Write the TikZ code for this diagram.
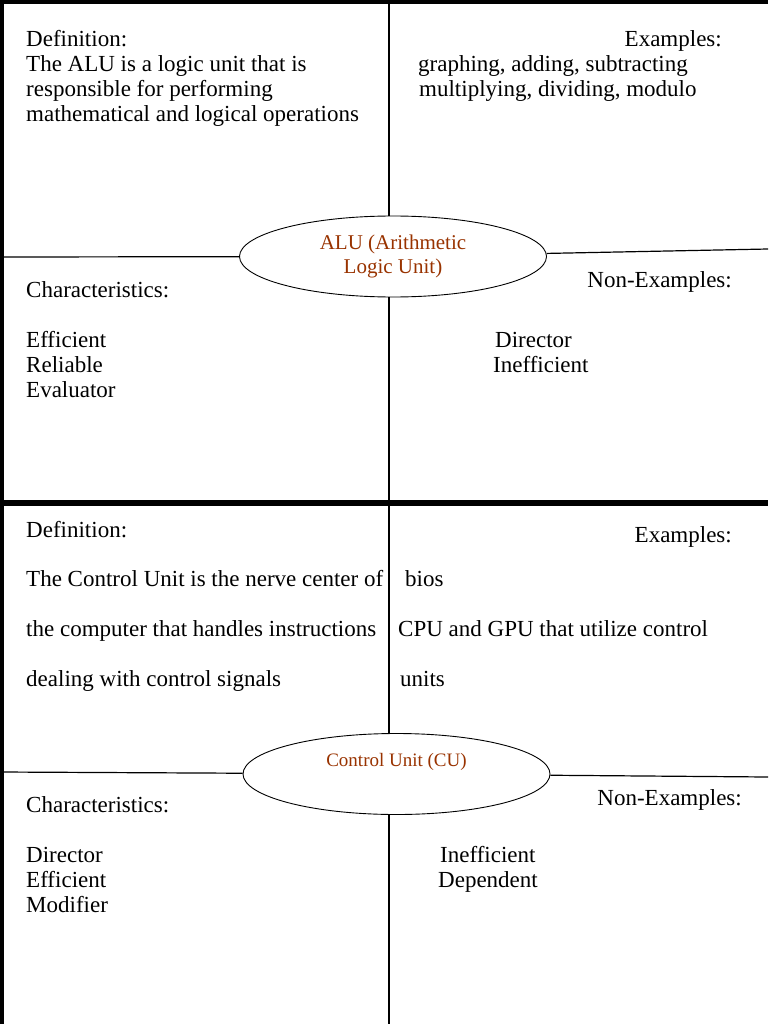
\documentclass[tikz,border=0pt]{standalone}
\usepackage{fontspec}
\setmainfont{Liberation Serif}
\usetikzlibrary{positioning,shapes.geometric,backgrounds}
\definecolor{unitred}{HTML}{993300}

\begin{document}
\begin{tikzpicture}[
  x=1pt, y=-1pt,
  txt/.style={inner sep=0pt, align=left, font=\fontsize{23}{25}\selectfont},
  unit/.style={draw, ellipse, fill=white, line width=0.9pt, inner sep=0pt,
    minimum width=307pt, minimum height=81pt, text=unitred, align=center},
  rule/.style={line width=1.2pt},
  frame/.style={line width=4pt}
]
\useasboundingbox (0,0) rectangle (768,1024);

% the two units
\node[unit, font=\fontsize{21}{24}\selectfont] (alu) at (393,256.5) {ALU (Arithmetic\\Logic Unit)};
\node[unit, font=\fontsize{19}{22}\selectfont, text height=13pt, text depth=29pt] (cu) at (396.5,774) {Control Unit (CU)};

% ALU quadrants (nodes sit on the baseline of their last line)
\node[txt, anchor=base west] (aludef) at (26,122) {Definition:\\The ALU is a logic unit that is\\responsible for performing\\mathematical and logical operations};
\node[txt, anchor=base east] (aluexhead) at (722,47) {Examples:};
\node[txt, anchor=base west] (aluex) at (418,97) {graphing, adding, subtracting\\\hspace{1pt}multiplying, dividing, modulo};
\node[txt, anchor=base west] (aluchar) at (26,397) {Characteristics:\\[25pt]Efficient\\Reliable\\Evaluator};
\node[txt, anchor=base east] (alunonhead) at (732,287) {Non-Examples:};
\node[txt, anchor=base west] (alunon) at (493,372) {\hspace{2pt}Director\\Inefficient};

% CU quadrants
\node[txt, anchor=base west] (cudef) at (26,686) {Definition:\\[24pt]The Control Unit is the nerve center of\\[25pt]the computer that handles instructions\\[25pt]dealing with control signals};
\node[txt, anchor=base east] (cuexhead) at (732,542) {Examples:};
\node[txt, anchor=base west] (cuex) at (398,686) {\hspace{7pt}bios\\[25pt]CPU and GPU that utilize control\\[25pt]\hspace{2pt}units};
\node[txt, anchor=base west] (cuchar) at (26,912) {Characteristics:\\[25pt]Director\\Efficient\\Modifier};
\node[txt, anchor=base east] (cunonhead) at (742,805) {Non-Examples:};
\node[txt, anchor=base west] (cunon) at (438,887) {\hspace{2pt}Inefficient\\Dependent};

\coordinate (aluL) at (0,257);
\coordinate (aluR) at (768,249);
\coordinate (cuL) at (0,772);
\coordinate (cuR) at (768,777);

\begin{scope}[on background layer]
  \draw[rule] (389,0) -- (389,1024);
  \draw[rule] (aluL) -- (alu);
  \draw[rule] (alu) -- (aluR);
  \draw[rule] (cuL) -- (cu);
  \draw[rule] (cu) -- (cuR);
  % frame
  \draw[frame] (0,2) -- (768,2);
  \draw[frame] (2,0) -- (2,1024);
  \draw[line width=6pt] (0,503) -- (768,503);
\end{scope}
\end{tikzpicture}
\end{document}
